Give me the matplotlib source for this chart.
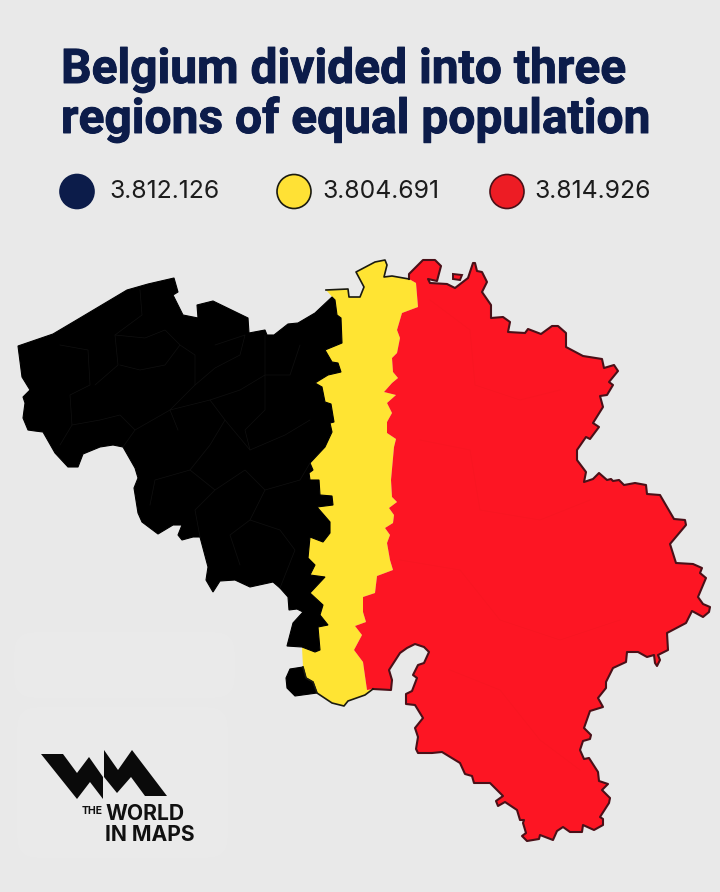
import matplotlib
matplotlib.use('Agg')
import matplotlib.pyplot as plt
import matplotlib.patheffects as pe
from matplotlib.patches import Polygon, Circle, FancyBboxPatch

plt.rcParams['font.family'] = ['Inter', 'DejaVu Sans']

title_lines = ['Belgium divided into three', 'regions of equal population']
legend_labels = ['3.812.126', '3.804.691', '3.814.926']
legend_colors = ['#0c1c4a', '#ffe135', '#ed1c24']
legend_edges = ['#0c1c4a', '#1a1a10', '#4a1018']
legend_x = [77, 294, 507]
legend_text_x = [109, 322, 534]

# outlines in picture pixels
black_north = [(18,346),(53,334),(80,318),(127,290),(148,284),(174,278),(178,292),(173,295),(183,315),
               (198,318),(197,305),(213,301),(248,318),(249,333),(265,330),(267,335),(274,335),(288,324),
               (298,323),(315,313),(332,297)]
black_yellow = [(335,300),(337,315),(341,318),(342,343),(325,350),(332,362),(338,363),(341,372),(328,375),
                (315,383),(322,387),(325,402),(331,404),(334,422),(330,423),(332,432),(325,447),(310,463),
                (313,470),(309,473),(310,480),(319,480),(320,495),(332,496),(333,505),(317,507),(330,522),
                (330,533),(323,542),(310,537),(308,558),(315,565),(310,575),(325,577),(310,593),(323,605),
                (320,615),(328,625),(318,627),(320,650),(315,652),(302,647)]
black_south = [(287,646),(293,623),(303,612),(297,609),(289,610),(288,597),(280,588),(273,582),(250,587),
               (235,580),(220,581),(213,592),(206,580),(208,567),(200,537),(193,537),(182,540),(178,535),
               (182,525),(173,525),(158,534),(142,522),(138,513),(134,488),(138,478),(135,468),(123,447),
               (113,445),(100,447),(83,454),(78,467),(68,467),(55,453),(43,432),(35,431),(28,430),(23,418),
               (25,403),(23,397),(30,390),(22,377)]
black_blob = [(286,678),(290,669),(303,667),(306,678),(313,682),(317,693),(295,696),(287,688)]

yellow_north = [(326,290),(348,289),(349,297),(360,297),(364,287),(356,272),(375,262),(385,260),(387,265),
                (384,277),(392,276),(409,279)]
yellow_red = [(416,283),(418,307),(402,313),(397,330),(400,338),(397,353),(392,358),(393,372),(398,378),
              (392,383),(384,392),(396,395),(387,403),(392,413),(387,422),(387,433),(396,439),(394,447),
              (391,480),(392,497),(397,502),(389,508),(394,515),(393,523),(385,528),(390,535),(387,543),
              (390,560),(393,570),(377,576),(375,593),(363,597),(363,612),(366,622),(355,626),(362,635),
              (354,650),(363,662),(367,690)]
yellow_south = [(373,689),(365,695),(348,701),(344,706),(332,703),(317,693),(313,682),(306,678),(303,667)]

red_outer = [(409,279),(409,274),(423,260),(435,260),(441,266),(437,281),(428,279),(430,283),(447,284),
             (455,288),(468,278),(473,263),(475,263),(477,271),(482,272),(487,282),(482,292),(491,305),
             (491,318),(503,317),(510,322),(508,332),(525,333),(528,329),(541,334),(552,326),(558,326),
             (566,333),(566,347),(583,356),(602,359),(604,368),(614,365),(618,371),(609,382),(613,385),
             (607,395),(600,396),(603,407),(593,423),(599,427),(590,439),(586,437),(577,450),(577,460),
             (586,472),(584,482),(593,479),(599,473),(607,480),(611,479),(613,481),(619,480),(624,485),
             (635,483),(646,485),(647,494),(660,495),(674,519),(685,520),(686,525),(670,544),(676,563),
             (693,564),(702,568),(700,573),(706,578),(698,597),(703,604),(710,607),(709,612),(703,617),
             (692,611),(686,623),(667,633),(668,650),(658,655),(660,660),(657,666),(655,663),(654,655),
             (647,657),(638,652),(627,652),(626,662),(613,668),(606,682),(606,688),(598,698),(603,707),
             (590,711),(584,728),(591,735),(590,739),(583,741),(580,750),(584,759),(589,758),(598,772),
             (599,781),(608,784),(602,790),(610,798),(609,803),(600,817),(603,819),(603,825),(594,830),
             (583,825),(582,832),(570,832),(563,827),(557,831),(553,840),(540,835),(539,839),(527,841),
             (522,836),(526,833),(523,823),(524,820),(520,820),(517,810),(505,802),(498,806),(496,801),
             (503,796),(490,783),(474,783),(472,776),(465,774),(460,763),(442,752),(432,753),(418,753),
             (416,749),(418,737),(415,728),(423,718),(415,705),(406,704),(406,694),(412,691),(417,678),
             (413,675),(418,665),(424,663),(429,652),(424,647),(415,644),(407,648),(400,653),(389,670),
             (392,680),(391,690),(373,689)]
red_island = [(453,274),(462,275),(460,280),(453,279)]

# some of the faint municipal lines inside the black part
black_inner = [
    [(140,290),(142,315),(115,335),(118,365),(95,385)],
    [(60,345),(88,350),(90,385),(70,395),(72,425),(60,445)],
    [(115,335),(145,338),(165,330),(180,345),(165,365),(140,370),(120,365)],
    [(180,345),(195,355),(195,385),(170,410),(178,430)],
    [(215,345),(245,335),(240,355),(215,368),(195,385)],
    [(265,335),(265,375),(265,410),(245,430),(250,450)],
    [(300,345),(290,375),(265,375),(240,390),(210,400)],
    [(72,425),(100,420),(120,415),(135,430),(123,447)],
    [(135,430),(170,410),(210,400),(225,420),(210,445),(190,470),(155,480),(150,505)],
    [(225,420),(250,450),(285,435),(310,420)],
    [(190,470),(215,490),(195,510),(200,537)],
    [(215,490),(245,470),(265,490),(250,520),(230,535),(240,565)],
    [(265,490),(300,480),(310,463)],
    [(250,520),(280,530),(295,550),(280,588)],
]
red_inner = [
    [(430,300),(470,330),(475,385),(520,400),(560,390)],
    [(420,440),(470,450),(480,510),(540,520),(590,500)],
    [(400,560),(460,570),(500,620),(560,640),(620,620)],
    [(450,670),(500,690),(540,740),(580,770)],
]

logo_left = [(41,754),(63,754),(77,773),(89,757),(103,777),(103,799),(90,782),(77,799)]
logo_right = [(104,750),(118,770),(132,750),(167,796),(145,796),(131,777),(117,793),(104,777)]

fig = plt.figure(figsize=(7.2, 8.92), dpi=100, facecolor='#e9e9e9')
ax = fig.add_axes([0, 0, 1, 1])
ax.set_xlim(0, 720)
ax.set_ylim(892, 0)
ax.axis('off')

# lighter smudges behind the logo
ax.add_patch(FancyBboxPatch((22, 640), 205, 50, boxstyle='round,pad=8,rounding_size=20', facecolor='#eaeaea', edgecolor='none'))
ax.add_patch(FancyBboxPatch((25, 715), 195, 135, boxstyle='round,pad=8,rounding_size=20', facecolor='#eaeaea', edgecolor='none'))

# title and legend
heavy = [pe.withStroke(linewidth=0.7, foreground='#0c1c4a')]
ax.text(61, 83, title_lines[0], fontsize=34.5, fontweight='bold', family=['Roboto', 'DejaVu Sans'], color='#0c1c4a', va='baseline', ha='left', path_effects=heavy)
ax.text(61, 133, title_lines[1], fontsize=34.5, fontweight='bold', family=['Roboto', 'DejaVu Sans'], color='#0c1c4a', va='baseline', ha='left', path_effects=heavy)
for x, tx, lab, col, ed in zip(legend_x, legend_text_x, legend_labels, legend_colors, legend_edges):
    ax.add_patch(Circle((x, 191.5), 17, facecolor=col, edgecolor=ed, linewidth=1.2))
    ax.text(tx, 192, lab, fontsize=17.8, color='#1c1c1c', va='center', ha='left')

# map
black_poly = black_north + black_yellow + black_south
yellow_poly = yellow_north + yellow_red + yellow_south + black_yellow[::-1]
red_poly = red_outer + yellow_red[::-1]

ax.add_patch(Polygon(yellow_poly, closed=True, facecolor='#ffe433', edgecolor='none'))
ax.add_patch(Polygon(red_poly, closed=True, facecolor='#fd1523', edgecolor='none'))
ax.add_patch(Polygon(black_poly, closed=True, facecolor='black', edgecolor='black', linewidth=0.8))
ax.add_patch(Polygon(black_blob, closed=True, facecolor='black', edgecolor='black', linewidth=0.8))
ax.add_patch(Polygon(red_island, closed=True, facecolor='#fd1523', edgecolor='#4a1018', linewidth=1.4))

for seg in black_inner:
    ax.plot(*zip(*seg), color='#101010', lw=0.5)
for seg in red_inner:
    ax.plot(*zip(*seg), color='#f61522', lw=0.4)

ax.plot(*zip(*red_outer), color='#4a1018', lw=1.5, solid_joinstyle='round')
ax.plot(*zip(*yellow_north), color='#1a1a10', lw=1.2)
ax.plot(*zip(*yellow_south), color='#1a1a10', lw=1.2)

# logo
ax.add_patch(Polygon(logo_left, closed=True, facecolor='#0a0a0a', edgecolor='none'))
ax.add_patch(Polygon(logo_right, closed=True, facecolor='#0a0a0a', edgecolor='none'))
ax.text(82, 811, 'THE', fontsize=7.5, fontweight='bold', color='#111111', va='center', ha='left')
ax.text(105, 814, 'WORLD', fontsize=15.2, fontweight='bold', color='#111111', va='center', ha='left')
ax.text(105, 835, 'IN MAPS', fontsize=15.2, fontweight='bold', color='#111111', va='center', ha='left')

fig.savefig('out.png', dpi=100, facecolor=fig.get_facecolor())
